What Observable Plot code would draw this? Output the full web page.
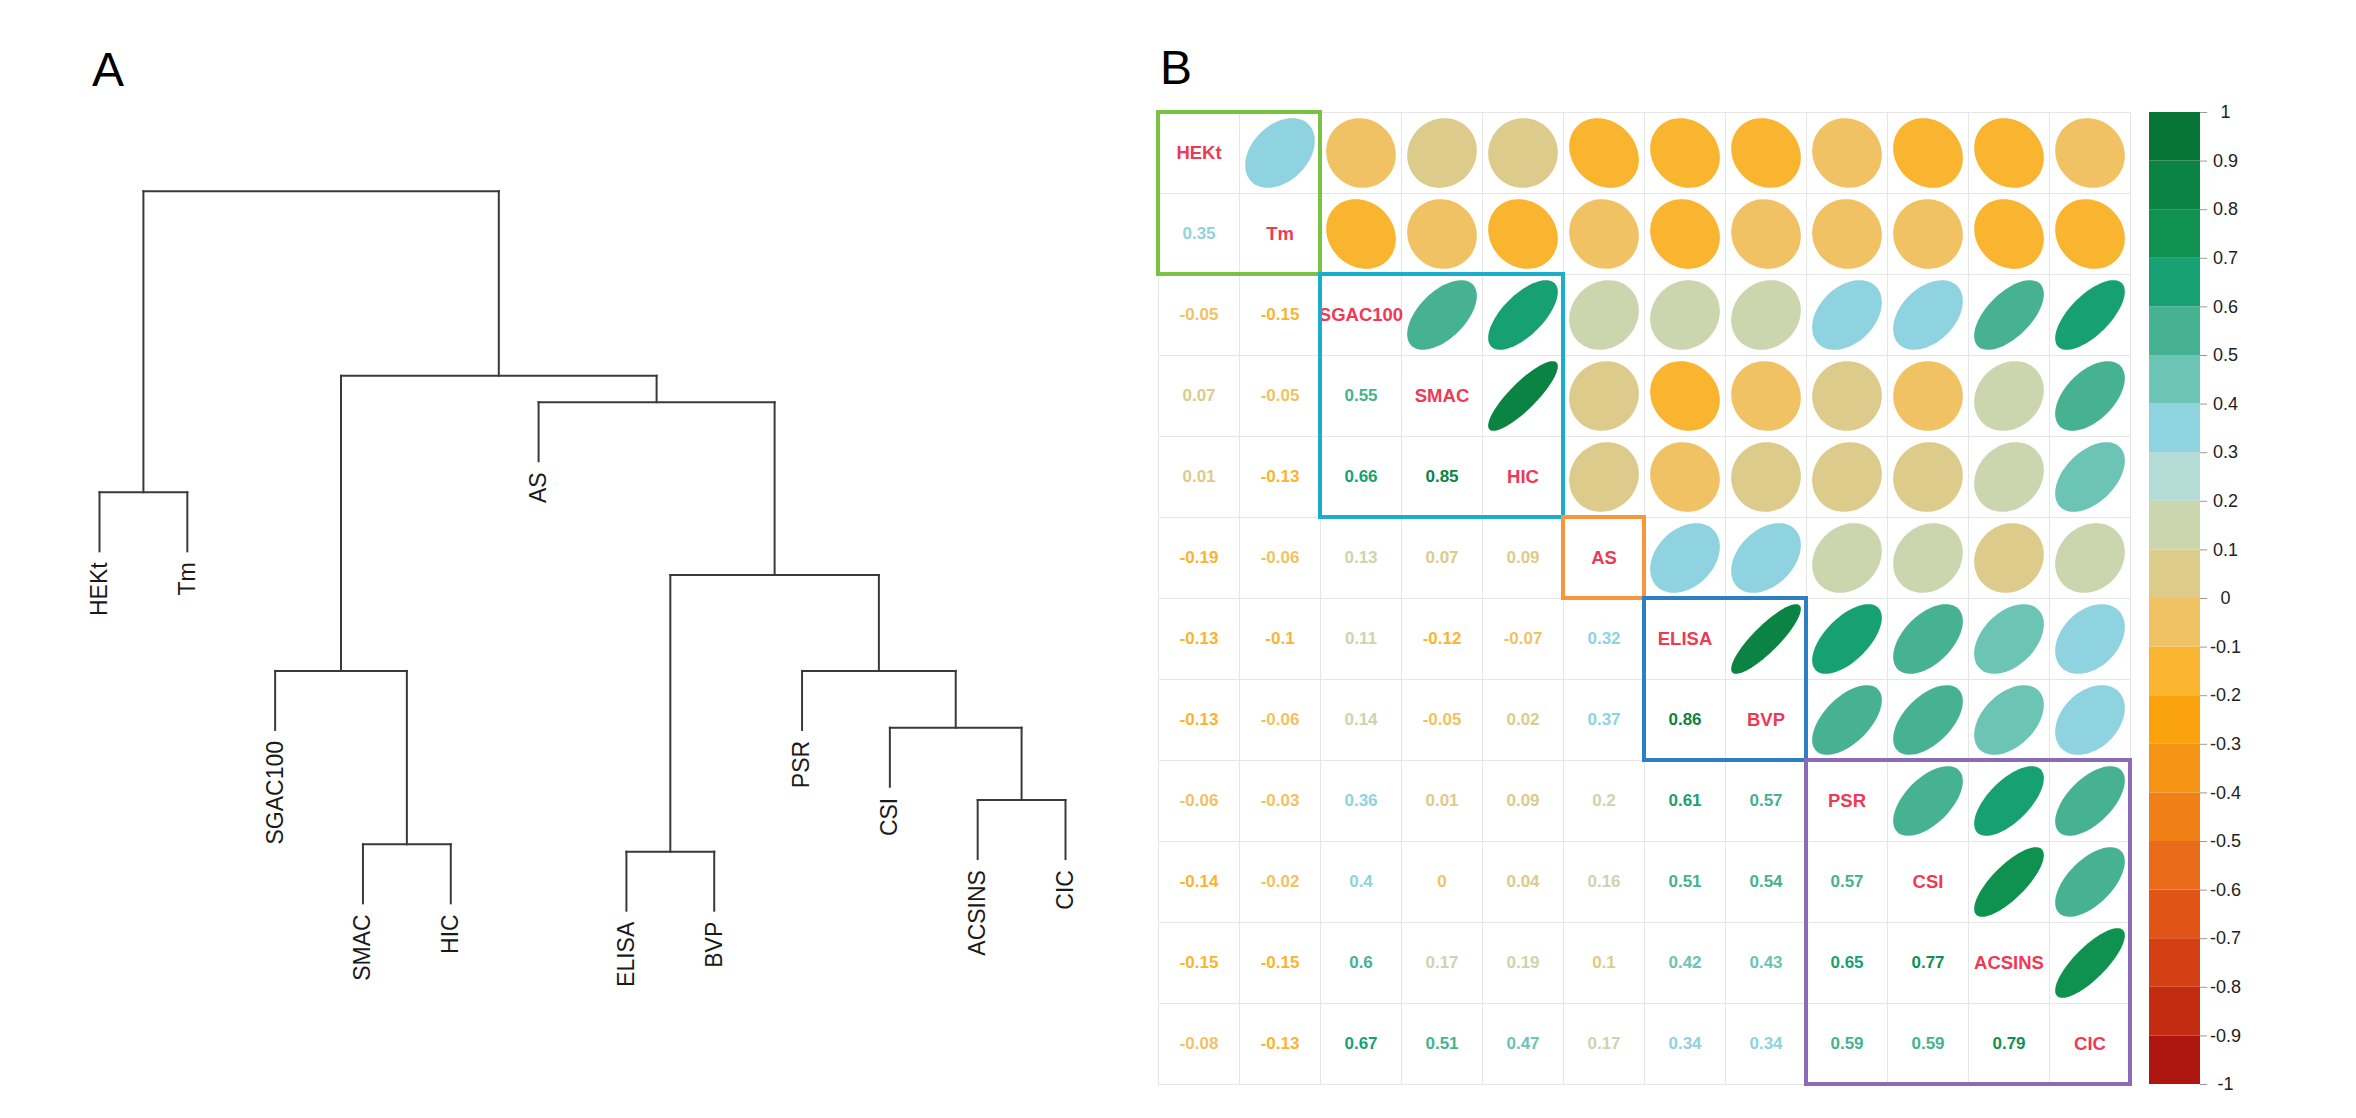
<!DOCTYPE html>
<html><head><meta charset="utf-8">
<script src="https://cdn.jsdelivr.net/npm/d3@7"></script>
<script src="https://cdn.jsdelivr.net/npm/@observablehq/plot@0.6"></script>
<style>
html,body{margin:0;padding:0;background:#fff;}
#wrap{position:relative;width:2356px;height:1118px;overflow:hidden;font-family:"Liberation Sans",Arial,sans-serif;}
.panel{position:absolute;top:0;}
.tag{position:absolute;font-size:48px;line-height:1;color:#000;font-family:"Liberation Sans",Arial,sans-serif;}
</style></head><body>
<div id="wrap">
  <div id="pa" class="panel" style="left:0px"></div>
  <div id="pb" class="panel" style="left:1100px"></div>
  <div id="pc" class="panel" style="left:2100px"></div>
  <div class="tag" style="left:92px;top:46px">A</div>
  <div class="tag" style="left:1160px;top:44px">B</div>
</div>
<script>
// ---------------- data ----------------
const variables = ["HEKt","Tm","SGAC100","SMAC","HIC","AS","ELISA","BVP","PSR","CSI","ACSINS","CIC"];
// lower triangle of the correlation matrix (row i, columns 0..i-1)
const lowerRows = [
  [],
  [0.35],
  [-0.05,-0.15],
  [0.07,-0.05,0.55],
  [0.01,-0.13,0.66,0.85],
  [-0.19,-0.06,0.13,0.07,0.09],
  [-0.13,-0.1,0.11,-0.12,-0.07,0.32],
  [-0.13,-0.06,0.14,-0.05,0.02,0.37,0.86],
  [-0.06,-0.03,0.36,0.01,0.09,0.2,0.61,0.57],
  [-0.14,-0.02,0.4,0,0.04,0.16,0.51,0.54,0.57],
  [-0.15,-0.15,0.6,0.17,0.19,0.1,0.42,0.43,0.65,0.77],
  [-0.08,-0.13,0.67,0.51,0.47,0.17,0.34,0.34,0.59,0.59,0.79]
];
// dendrogram (panel A): leaf order and merges with heights
const dendroLeaves = ["HEKt","Tm","SGAC100","SMAC","HIC","AS","ELISA","BVP","PSR","CSI","ACSINS","CIC"];
const mergeIds     = ["m1","m2","m3","m4","m5","m6","m7","m8","m9","m10","m11"];
const mergeLeft    = ["ELISA","SMAC","ACSINS","CSI","PSR","SGAC100","m1","HEKt","AS","m6","m8"];
const mergeRight   = ["BVP","HIC","CIC","m3","m4","m2","m5","Tm","m7","m9","m10"];
const mergeHeight  = [0.14,0.15,0.21,0.308,0.385,0.385,0.515,0.627,0.749,0.785,1.035];
const leafHang = 0.08;
// cluster boxes (index ranges on the matrix diagonal)
const clusterFrom = [0,2,5,6,8];
const clusterTo   = [2,5,6,8,12];
// colour legend tick labels
const legendTicks = [-1,-0.9,-0.8,-0.7,-0.6,-0.5,-0.4,-0.3,-0.2,-0.1,0,0.1,0.2,0.3,0.4,0.5,0.6,0.7,0.8,0.9,1];

// ---------------- styles ----------------
const palette = ["#ad150f","#c42c12","#d44014","#e05516","#e96a18","#f07f16","#f59314","#faa30c","#f9b430","#f0c263",
                 "#dccb8b","#cbd5ae","#b3dcd6","#8ed3df","#6cc4b5","#46b291","#17a173","#0f924f","#0b8443","#077535"];
const clusterColors = ["#7cc242","#1aaecb","#f7963c","#2b7fc2","#8b6bb4"];
const font = "Liberation Sans, Arial, Helvetica, sans-serif";

// ---------------- panel A: dendrogram ----------------
const nodes = new Map(dendroLeaves.map((d,i)=>[d,{x:i,h:null,leaf:true,name:d}]));
const segs = [];
mergeIds.forEach((id,k)=>{
  const h = mergeHeight[k];
  const a = nodes.get(mergeLeft[k]), b = nodes.get(mergeRight[k]);
  for (const c of [a,b]) {
    if (c.leaf) c.h = h - leafHang;
    segs.push({x1:c.x,y1:c.h,x2:c.x,y2:h});
  }
  segs.push({x1:a.x,y1:h,x2:b.x,y2:h});
  nodes.set(id,{x:(a.x+b.x)/2,h,leaf:false});
});
const leafData = dendroLeaves.map(d=>nodes.get(d));

const plotA = Plot.plot({
  width:1150, height:1118, margin:0,
  style:{fontFamily:font, background:"transparent", overflow:"visible"},
  x:{type:"linear", domain:[0,11], range:[99,1065], axis:null},
  y:{type:"linear", domain:[0,1.035], range:[954.5,190.7], axis:null},
  marks:[
    Plot.link(segs,{x1:"x1",y1:"y1",x2:"x2",y2:"y2",stroke:"#3a3a3a",strokeWidth:2,strokeLinecap:"square"}),
    Plot.text(leafData,{x:"x",y:"h",text:"name",rotate:-90,textAnchor:"end",dy:11,fontSize:23,fill:"#1a1a1a"})
  ]
});
document.getElementById("pa").append(plotA);

// ---------------- panel B: correlation matrix ----------------
const n = variables.length;
const corr = (i,j)=> i===j ? 1 : (i>j ? lowerRows[i][j] : lowerRows[j][i]);
const eps = 1e-6; // corrplot bins are right-closed
const lowerCells = [], ellPts = [];
const segN = 72, scale = 0.86;
for (let i=0;i<n;i++) for (let j=0;j<n;j++) {
  const r = corr(i,j);
  if (i>j) lowerCells.push({i,j,r,c:r-eps});
  else if (i<j) {
    const d = Math.acos(r)/2;
    for (let s=0;s<=segN;s++){
      const k = 2*Math.PI*s/segN;
      ellPts.push({cell:i*n+j, c:r-eps,
        x: j+0.5 + Math.cos(k+d)/2*scale,
        y: i+0.5 - Math.cos(k-d)/2*scale});
    }
  }
}
const gridLines = d3.range(n+1);
const thresholds = legendTicks.slice(1,-1);

const plotB = Plot.plot({
  width:1045, height:1118, margin:0,
  style:{fontFamily:font, background:"transparent", overflow:"visible"},
  x:{type:"linear", domain:[0,n], range:[58,1030], axis:null},
  y:{type:"linear", domain:[0,n], range:[112,1084], axis:null},
  color:{type:"threshold", domain:thresholds, range:palette},
  marks:[
    Plot.ruleX(gridLines,{x:d=>d, y1:0, y2:n, stroke:"#e6e6e6", strokeWidth:1}),
    Plot.ruleY(gridLines,{y:d=>d, x1:0, x2:n, stroke:"#e6e6e6", strokeWidth:1}),
    Plot.line(ellPts,{x:"x", y:"y", z:"cell", fill:"c", stroke:"none", curve:"linear-closed"}),
    Plot.text(lowerCells,{x:d=>d.j+0.5, y:d=>d.i+0.5, text:d=>String(d.r), fill:"c", fontSize:17, fontWeight:600}),
    Plot.text(variables,{x:(d,i)=>i+0.5, y:(d,i)=>i+0.5, text:d=>d, fill:"#ee3a55", fontSize:18.5, fontWeight:"bold"}),
    ...clusterFrom.map((f,k)=>Plot.rect([k],{x1:()=>f, x2:()=>clusterTo[k], y1:()=>f, y2:()=>clusterTo[k],
        fill:"none", stroke:clusterColors[k], strokeWidth:4}))
  ]
});
document.getElementById("pb").append(plotB);

// ---------------- colour legend ----------------
const bins = legendTicks.slice(0,-1).map((v,i)=>({lo:v, hi:legendTicks[i+1], mid:(v+legendTicks[i+1])/2}));
const plotC = Plot.plot({
  width:256, height:1118, margin:0,
  style:{fontFamily:font, background:"transparent", overflow:"visible"},
  x:{type:"linear", domain:[0,1], range:[49,100], axis:null},
  y:{type:"linear", domain:[-1,1], range:[1084,112], axis:null},
  color:{type:"threshold", domain:thresholds, range:palette},
  marks:[
    Plot.rect(bins,{x1:0, x2:1, y1:"lo", y2:"hi", fill:"mid"}),
    Plot.ruleY(legendTicks,{y:d=>d, x1:1, x2:1.14, stroke:"#9a9a9a", strokeWidth:1}),
    Plot.text(legendTicks,{x:1, y:d=>d, dx:25, text:d=>String(d), textAnchor:"middle", fontSize:18, fill:"#222"})
  ]
});
document.getElementById("pc").append(plotC);
</script>
</body></html>
